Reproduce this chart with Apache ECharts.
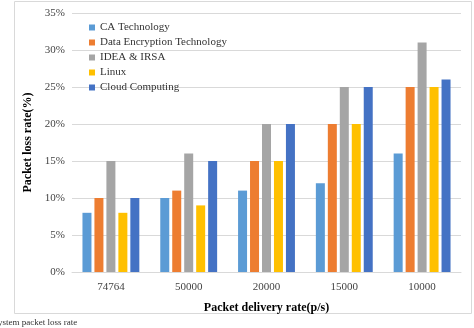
<!DOCTYPE html>
<html><head><meta charset="utf-8">
<script src="https://cdn.jsdelivr.net/npm/echarts@6/dist/echarts.min.js"></script>
<style>html,body{margin:0;padding:0;background:#fff}#c{width:474px;height:328px}</style>
</head><body><div id="c"></div>
<script>
var categories = ['74764', '50000', '20000', '15000', '10000'];
var seriesNames = ['CA Technology', 'Data Encryption Technology', 'IDEA & IRSA', 'Linux', 'Cloud Computing'];
var caTech = [8, 10, 11, 12, 16];
var dataEnc = [10, 11, 15, 20, 25];
var ideaIrsa = [15, 16, 20, 25, 31];
var linux = [8, 9, 15, 20, 25];
var cloud = [10, 15, 20, 25, 26];
var colors = ['#5B9BD5', '#ED7D31', '#A5A5A5', '#FFC000', '#4472C4'];
var values = [caTech, dataEnc, ideaIrsa, linux, cloud];
var font = 'Liberation Serif';
var chart = echarts.init(document.getElementById('c'));
chart.setOption({
  animation: false,
  color: colors,
  textStyle: {fontFamily: font},
  grid: {left: 72, right: 13, top: 13, bottom: 56},
  legend: {
    orient: 'vertical', left: 89, top: 22, padding: 0, itemWidth: 6, itemHeight: 6, itemGap: 4,
    icon: 'rect',
    textStyle: {fontFamily: font, fontSize: 11, color: '#333'},
    data: seriesNames
  },
  xAxis: {
    type: 'category', data: categories,
    name: 'Packet delivery rate(p/s)', nameLocation: 'middle', nameGap: 30,
    nameTextStyle: {fontFamily: font, fontWeight: 'bold', fontSize: 12, color: '#000'},
    axisLine: {lineStyle: {color: '#d9d9d9'}}, axisTick: {show: false},
    axisLabel: {fontFamily: font, fontSize: 11, color: '#444', margin: 10}
  },
  yAxis: {
    type: 'value', min: 0, max: 35, interval: 5,
    name: 'Packet loss rate(%)', nameLocation: 'middle', nameGap: 38,
    nameTextStyle: {fontFamily: font, fontWeight: 'bold', fontSize: 12, color: '#000'},
    axisLabel: {formatter: '{value}%', fontFamily: font, fontSize: 11, color: '#444', margin: 7},
    splitLine: {lineStyle: {color: '#d9d9d9'}}, axisLine: {show: false}, axisTick: {show: false}
  },
  graphic: [
    {type: 'rect', shape: {x: 14.5, y: 1.5, width: 457, height: 312}, style: {fill: 'none', stroke: '#d9d9d9', lineWidth: 1}, z: -1},
    {type: 'text', left: -7, top: 318, style: {text: 'System packet loss rate', font: '9px "Liberation Serif"', fill: '#333'}}
  ],
  series: seriesNames.map(function (n, i) {
    return {name: n, type: 'bar', data: values[i], barWidth: 9, barGap: '33%', itemStyle: {color: colors[i]}};
  })
});
</script></body></html>
